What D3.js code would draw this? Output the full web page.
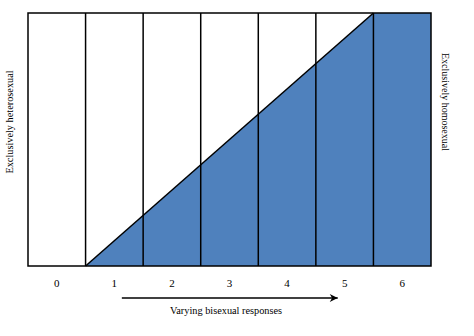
<!DOCTYPE html>
<html>
<head>
<meta charset="utf-8">
<script src="https://cdn.jsdelivr.net/npm/d3@7"></script>
<style>
  body { margin: 0; background: #fff; }
  svg { font-family: "Liberation Serif", "Times New Roman", serif; }
</style>
</head>
<body>
<svg width="474" height="336"></svg>
<script>
var ratings = [0, 1, 2, 3, 4, 5, 6];
// homosexual share of responses along the scale (rating position, share)
var sharePos = [0.5, 5.5, 6.5];
var shareVal = [0, 1, 1];
var leftLabel = 'Exclusively heterosexual';
var rightLabel = 'Exclusively homosexual';
var arrowLabel = 'Varying bisexual responses';
var arrowFrom = 1.13, arrowTo = 4.88;

var svg = d3.select('svg');
var x0 = 28, x1 = 431, y0 = 13, y1 = 266;

var x = d3.scaleLinear().domain([-0.5, 6.5]).range([x0, x1]);
var y = d3.scaleLinear().domain([0, 1]).range([y1, y0]);

var pts = sharePos.map(function (p, i) { return [p, shareVal[i]]; });

var area = d3.area()
  .x(function (d) { return x(d[0]); })
  .y0(y(0))
  .y1(function (d) { return y(d[1]); });

svg.append('path')
  .datum(pts)
  .attr('d', area)
  .attr('fill', '#4f81bd');

// column dividers
svg.selectAll('line.div').data(ratings.slice(1))
  .enter().append('line')
  .attr('class', 'div')
  .attr('x1', function (d) { return x(d - 0.5); })
  .attr('x2', function (d) { return x(d - 0.5); })
  .attr('y1', y0).attr('y2', y1)
  .attr('stroke', '#000').attr('stroke-width', 1.5);

// diagonal
svg.append('path')
  .datum(pts.slice(0, 2))
  .attr('d', d3.line().x(function (d) { return x(d[0]); }).y(function (d) { return y(d[1]); }))
  .attr('stroke', '#000').attr('stroke-width', 1.5).attr('fill', 'none');

svg.append('rect')
  .attr('x', x0).attr('y', y0)
  .attr('width', x1 - x0).attr('height', y1 - y0)
  .attr('fill', 'none').attr('stroke', '#000').attr('stroke-width', 1.5);

svg.selectAll('text.tick').data(ratings)
  .enter().append('text')
  .attr('class', 'tick')
  .attr('x', function (d) { return x(d); })
  .attr('y', 287)
  .attr('text-anchor', 'middle')
  .attr('font-size', 11)
  .text(function (d) { return d; });

svg.append('defs').append('marker')
  .attr('id', 'ah')
  .attr('viewBox', '0 0 10 10')
  .attr('refX', 10).attr('refY', 5)
  .attr('markerWidth', 12).attr('markerHeight', 8)
  .attr('markerUnits', 'userSpaceOnUse')
  .attr('orient', 'auto')
  .append('path').attr('d', 'M0,0L10,5L0,10L3,5Z').attr('fill', '#000');

svg.append('line')
  .attr('x1', x(arrowFrom)).attr('x2', x(arrowTo))
  .attr('y1', 298).attr('y2', 298)
  .attr('stroke', '#000').attr('stroke-width', 1.5)
  .attr('marker-end', 'url(#ah)');

svg.append('text')
  .attr('x', x(2.94)).attr('y', 314)
  .attr('text-anchor', 'middle')
  .attr('font-size', 10.3)
  .text(arrowLabel);

svg.append('text')
  .attr('transform', 'translate(13,122) rotate(-90)')
  .attr('text-anchor', 'middle')
  .attr('font-size', 10.3)
  .text(leftLabel);

svg.append('text')
  .attr('transform', 'translate(442,102) rotate(90)')
  .attr('text-anchor', 'middle')
  .attr('font-size', 10)
  .text(rightLabel);
</script>
</body>
</html>
